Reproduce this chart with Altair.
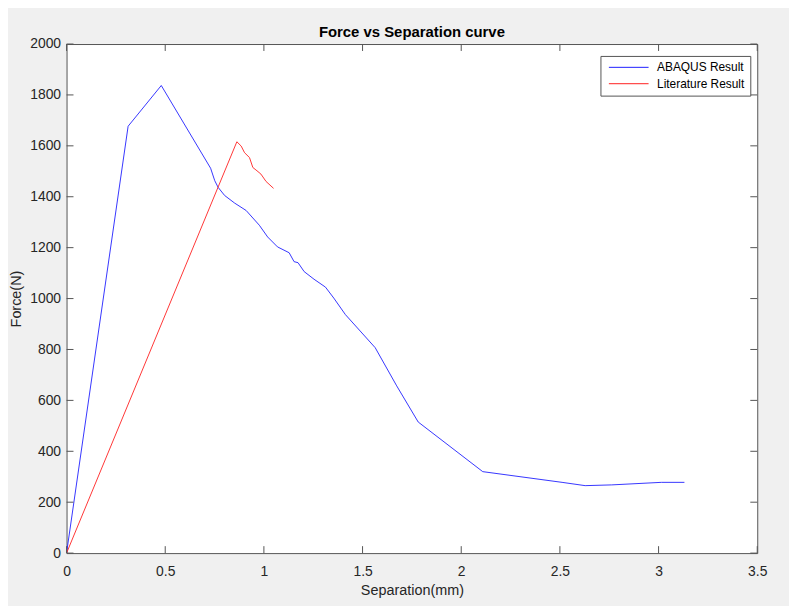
import altair as alt
import pandas as pd

# ABAQUS result (blue)
abaqus_x = [0, 0.312, 0.48, 0.73, 0.751, 0.768, 0.801, 0.852, 0.91, 0.977,
            1.019, 1.069, 1.128, 1.153, 1.173, 1.204, 1.254, 1.312, 1.354, 1.413,
            1.564, 1.673, 1.782, 2.109, 2.511, 2.628, 2.762, 3.014, 3.131]
abaqus_y = [0, 1677, 1837, 1512, 1463, 1437, 1405, 1375, 1346, 1288,
            1242, 1203, 1180, 1145, 1141, 1106, 1076, 1045, 1002, 937,
            807, 657, 515, 320, 278, 265, 268, 278, 278]

# Literature result (red)
lit_x = [0, 0.863, 0.885, 0.902, 0.927, 0.944, 0.965, 0.985, 1.011, 1.049]
lit_y = [0, 1616, 1599, 1573, 1554, 1515, 1502, 1489, 1460, 1433]

series = ['ABAQUS Result', 'Literature Result']
colors = ['#1f1fff', '#ff1f1f']
x_ticks = [0, 0.5, 1, 1.5, 2, 2.5, 3, 3.5]
y_ticks = [0, 200, 400, 600, 800, 1000, 1200, 1400, 1600, 1800, 2000]

W, H = 696, 513
TICK = 7
AX = '#555555'

df = pd.concat([
    pd.DataFrame({'x': abaqus_x, 'y': abaqus_y, 'series': series[0],
                  'i': range(len(abaqus_x))}),
    pd.DataFrame({'x': lit_x, 'y': lit_y, 'series': series[1],
                  'i': range(len(lit_x))}),
])
xt = pd.DataFrame({'v': x_ticks})
yt = pd.DataFrame({'v': y_ticks})

xscale = alt.Scale(domain=[0, 3.5], nice=False, zero=False)
yscale = alt.Scale(domain=[0, 2000], nice=False, zero=False)

lines = alt.Chart(df).mark_line(strokeWidth=0.9, clip=True).encode(
    x=alt.X('x:Q', scale=xscale,
            axis=alt.Axis(title='Separation(mm)', values=x_ticks, format='~g',
                          ticks=False, domain=False, grid=False, labelFlush=False,
                          labelPadding=12, titlePadding=5)),
    y=alt.Y('y:Q', scale=yscale,
            axis=alt.Axis(title='Force(N)', values=y_ticks, format='d',
                          ticks=False, domain=False, grid=False, labelFlush=False,
                          labelPadding=6, titlePadding=6)),
    color=alt.Color('series:N', scale=alt.Scale(domain=series, range=colors),
                    legend=alt.Legend(title=None, orient='none',
                                      legendX=538, legendY=12)),
    order='i:Q',
)

def hticks(y0, y1):
    return alt.Chart(xt).mark_rule(color=AX, strokeWidth=1).encode(
        x=alt.X('v:Q', scale=xscale, title='Separation(mm)'),
        y=alt.value(y0), y2=alt.value(y1))

def vticks(x0, x1):
    return alt.Chart(yt).mark_rule(color=AX, strokeWidth=1).encode(
        y=alt.Y('v:Q', scale=yscale, title='Force(N)'),
        x=alt.value(x0), x2=alt.value(x1))

chart = alt.layer(
    lines,
    hticks(H, H - TICK), hticks(0, TICK),
    vticks(0, TICK), vticks(W, W - TICK),
).properties(
    width=W, height=H,
    title=alt.Title('Force vs Separation curve', fontSize=15, fontWeight='bold',
                    color='#000000', anchor='middle', offset=-3),
    autosize=alt.AutoSizeParams(type='none'),
    padding={'left': 59, 'top': 34, 'right': 32, 'bottom': 51},
    background='#f0f0f0',
).configure_view(
    stroke=AX, strokeWidth=1, fill='white'
).configure_axis(
    labelFont='Liberation Sans', labelFontSize=14, labelColor='#262626',
    titleFont='Liberation Sans', titleFontSize=14.5, titleColor='#262626',
    titleFontWeight='normal',
).configure_title(
    font='Liberation Sans'
).configure_legend(
    symbolType='stroke', symbolSize=1600, symbolStrokeWidth=1, symbolOffset=3,
    clipHeight=13, rowPadding=3.5,
    labelFont='Liberation Sans', labelFontSize=12, labelColor='#000000',
    labelOffset=8, padding=5,
    strokeColor=AX, fillColor='white', cornerRadius=0,
)

chart.save('out.html', embed_options={'renderer': 'svg', 'actions': False})
